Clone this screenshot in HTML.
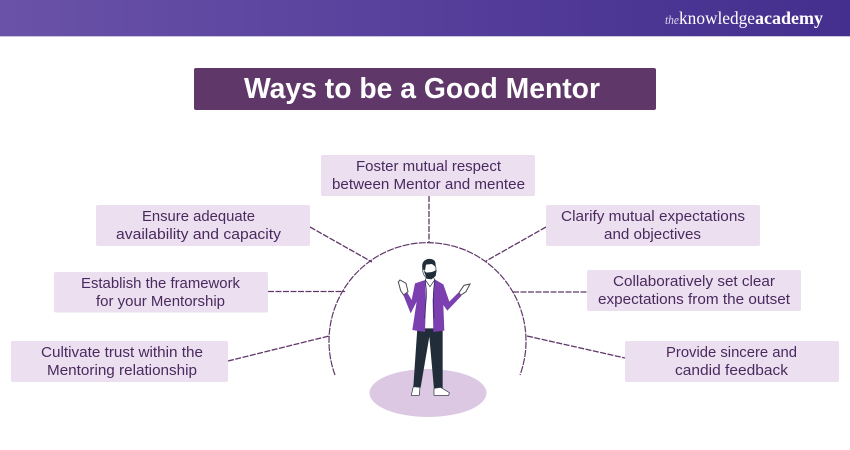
<!DOCTYPE html>
<html><head><meta charset="utf-8"><style>html,body{margin:0;padding:0;background:#fff}svg{display:block}</style></head><body>
<svg width="850" height="450" viewBox="0 0 850 450" xmlns="http://www.w3.org/2000/svg">
<defs><linearGradient id="h" x1="0" x2="1" y1="0" y2="0"><stop offset="0" stop-color="#6a52a8"/><stop offset=".7" stop-color="#4e3896"/><stop offset="1" stop-color="#452f8e"/></linearGradient></defs>
<rect width="850" height="450" fill="#fff"/>
<rect width="850" height="36" fill="url(#h)"/>
<rect y="36" width="850" height="1" fill="#c9c3de"/>
<g font-family="'Liberation Serif',serif" fill="#fff">
<text x="665" y="24" font-size="13" font-style="italic" textLength="14" lengthAdjust="spacingAndGlyphs" fill="#ddd6ea">the</text>
<text x="679" y="24" font-size="18" textLength="76" lengthAdjust="spacingAndGlyphs">knowledge</text>
<text x="755" y="24" font-size="18" font-weight="bold" textLength="68" lengthAdjust="spacingAndGlyphs">academy</text>
</g>
<rect x="194" y="68" width="462" height="42" rx="2" fill="#5f3769"/>
<text x="244" y="98" font-family="'Liberation Sans',sans-serif" font-weight="bold" font-size="29" fill="#fff" textLength="356" lengthAdjust="spacingAndGlyphs">Ways to be a Good Mentor</text>
<g fill="none" stroke="#5f3769" stroke-width="1.2" stroke-dasharray="7 1.2">
<path d="M335 375A98.5 98.5 0 1 1 520 375"/>
</g>
<g fill="none" stroke="#5f3769" stroke-width="1.3" stroke-dasharray="6 1.5">
<path d="M429 196V243M310 227L372 262M268 291.5H345M228 361L329 336M546 227L486 261M513 292H587M527 336L625 358"/>
</g>
<g fill="#ebdff0">
<rect x="321" y="155" width="214" height="41" rx="2"/>
<rect x="96" y="205" width="214" height="41" rx="2"/>
<rect x="54" y="272" width="214" height="40.5" rx="2"/>
<rect x="11" y="341" width="217" height="41" rx="2"/>
<rect x="546" y="205" width="214" height="41" rx="2"/>
<rect x="587" y="270" width="214" height="41" rx="2"/>
<rect x="625" y="341" width="214" height="41" rx="2"/>
</g>
<g font-family="'Liberation Sans',sans-serif" font-size="14.5" fill="#4a2a5e">
<text x="356" y="171" textLength="145" lengthAdjust="spacingAndGlyphs">Foster mutual respect</text>
<text x="332" y="189" textLength="193" lengthAdjust="spacingAndGlyphs">between Mentor and mentee</text>
<text x="142" y="221" textLength="113" lengthAdjust="spacingAndGlyphs">Ensure adequate</text>
<text x="116" y="239" textLength="165" lengthAdjust="spacingAndGlyphs">availability and capacity</text>
<text x="81" y="288" textLength="159" lengthAdjust="spacingAndGlyphs">Establish the framework</text>
<text x="96" y="306" textLength="129" lengthAdjust="spacingAndGlyphs">for your Mentorship</text>
<text x="41" y="357" textLength="162" lengthAdjust="spacingAndGlyphs">Cultivate trust within the</text>
<text x="47" y="375" textLength="150" lengthAdjust="spacingAndGlyphs">Mentoring relationship</text>
<text x="561" y="221" textLength="184" lengthAdjust="spacingAndGlyphs">Clarify mutual expectations</text>
<text x="604" y="239" textLength="97" lengthAdjust="spacingAndGlyphs">and objectives</text>
<text x="613" y="286" textLength="162" lengthAdjust="spacingAndGlyphs">Collaboratively set clear</text>
<text x="598" y="304" textLength="192" lengthAdjust="spacingAndGlyphs">expectations from the outset</text>
<text x="666" y="357" textLength="131" lengthAdjust="spacingAndGlyphs">Provide sincere and</text>
<text x="675" y="375" textLength="113" lengthAdjust="spacingAndGlyphs">candid feedback</text>
</g>
<ellipse cx="428" cy="393" rx="58.5" ry="24" fill="#dcc8e2"/>
<g transform="translate(320 240) scale(.3333)">
<path d="M292 265H368L368 445L342 447L328 290L302 442L280 440Z" fill="#212d38"/>
<path d="M280 440L300 442L298 466H274Z" fill="#fff" stroke="#212d38" stroke-width="2"/>
<path d="M342 445L362 442L388 458L386 466H342Z" fill="#fff" stroke="#212d38" stroke-width="2"/>
</g>
<g transform="translate(390 250) scale(.3333)">
<path d="M105 92H135V208H105Z" fill="#fff"/>
<path d="M106 90L75 100L65 150L52 128L40 135L62 190L80 155L67 240L105 246L108 150Z" fill="#7b3fb0"/>
<path d="M134 88L160 103L178 155L205 128L214 138L172 182L160 165L163 242L130 246L128 150Z" fill="#7b3fb0"/>
<path d="M106 90L110 130L104 205M134 88L130 130L132 205" fill="none" stroke="#2c2350" stroke-width="2"/>
<path d="M41 135L54 125L48 100L30 90L25 96L32 122Z" fill="#fff" stroke="#4a4a55" stroke-width="3"/>
<path d="M207 128L212 136L228 125L240 102L222 106Z" fill="#fff" stroke="#4a4a55" stroke-width="3"/>
<path d="M106 90L120 110L134 90L130 80H110Z" fill="#fff" stroke="#212d38" stroke-width="2"/>
<ellipse cx="118" cy="58" rx="20" ry="28" fill="#fff" stroke="#212d38" stroke-width="2"/>
<path d="M98 58C92 34 108 25 122 27C138 29 138 42 136 50L126 42L108 44L105 62Z" fill="#212d38"/>
<path d="M101 62L110 68L126 66L140 60L137 78L124 88L110 86Z" fill="#212d38"/>
</g>
</svg>
</body></html>
